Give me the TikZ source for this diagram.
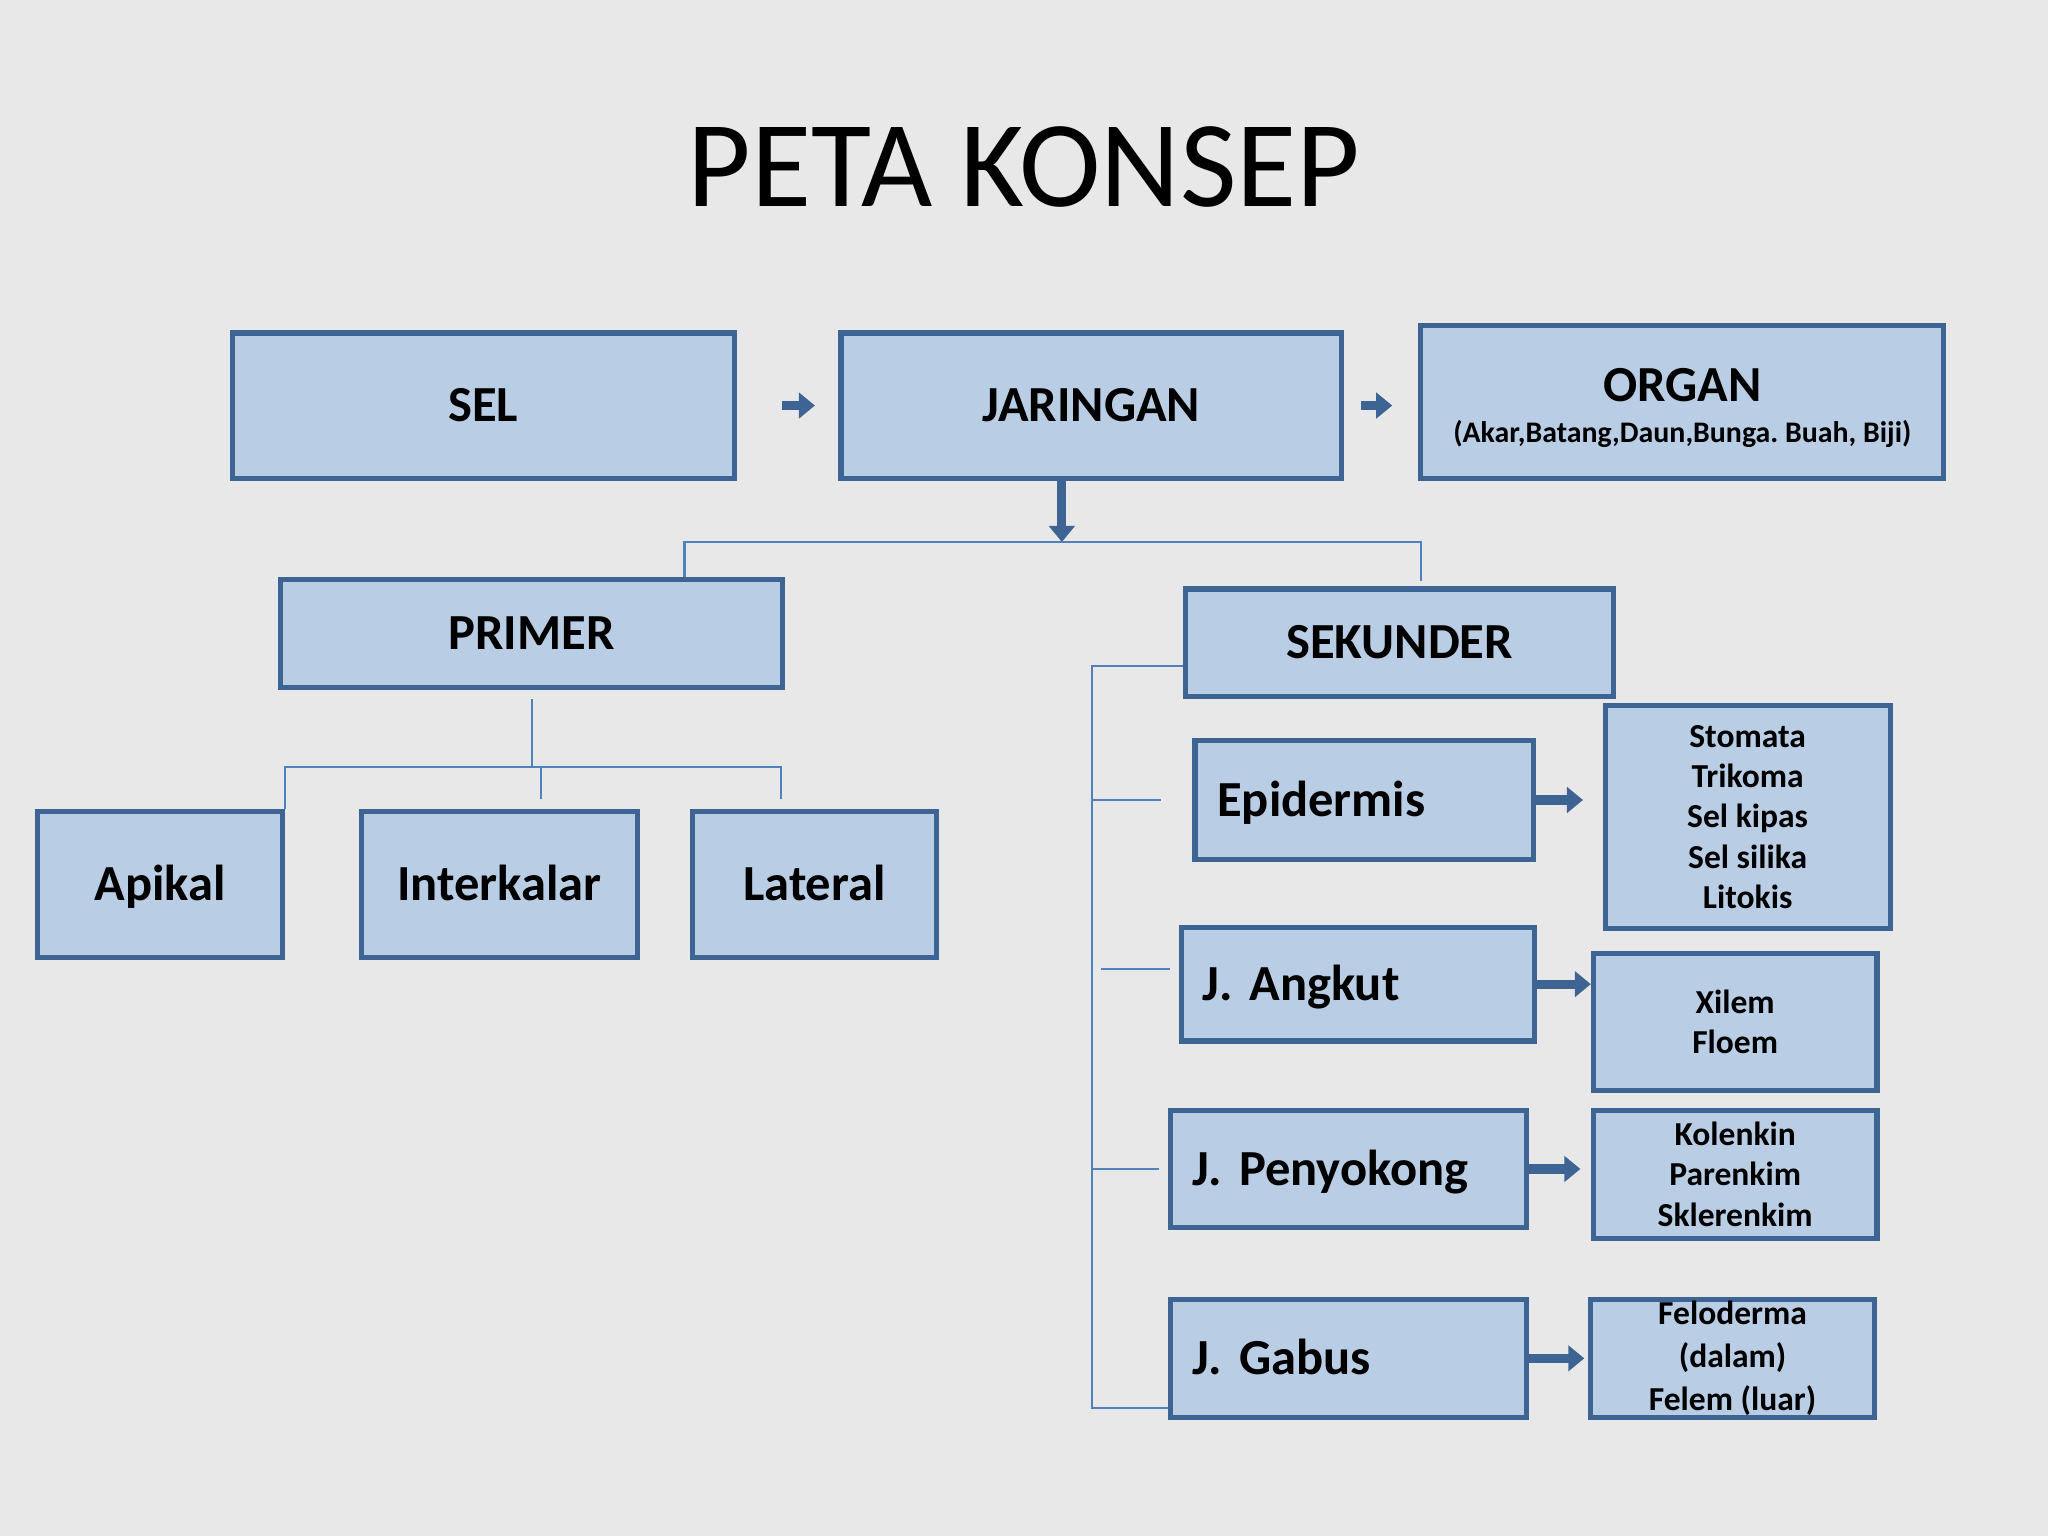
\documentclass[tikz,border=0pt]{standalone}
\usepackage{fontspec}
\setmainfont{Carlito}
\usetikzlibrary{arrows.meta,positioning,calc}
\definecolor{slidebg}{RGB}{232,232,232}
\definecolor{boxfill}{RGB}{185,205,229}
\definecolor{boxline}{RGB}{62,100,148}
\definecolor{treeline}{RGB}{79,129,189}
\frenchspacing

\begin{document}
\begin{tikzpicture}[x=0.01cm, y=-0.01cm,
    box/.style={draw=boxline, line width=1.1pt, fill=boxfill, inner sep=0pt, align=center,
        font=\fontsize{11}{13}\selectfont\bfseries},
    onebox/.style={box, text height=7.1pt, text depth=0pt},
    leftbox/.style={onebox, align=left, inner xsep=0.17cm},
    listbox/.style={box, font=\fontsize{7.3}{8.8}\selectfont\bfseries},
    tree/.style={draw=treeline, line width=0.45pt},
    link/.style={draw=boxline, line width=2pt, -{Triangle[length=3.5pt, width=5.5pt]}}]
    \path[fill=slidebg] (0,0) rectangle (1568,1176);
    \node[font=\fontsize{26.8}{30}\selectfont] (title) at (784,128) {PETA KONSEP};

    % top row
    \node[onebox, minimum width=3.84cm, minimum height=1.11cm] (sel) at (370,310.5) {SEL};
    \node[onebox, minimum width=3.83cm, minimum height=1.11cm] (jar) at (835.5,310.5) {JARINGAN};
    \node[box, minimum width=4cm, minimum height=1.17cm] (org) at (1288,307.5)
        {\rule{0pt}{0.35cm}ORGAN\\[-4pt]{\fontsize{6.5}{8}\selectfont(Akar,Batang,Daun,Bunga. Buah, Biji)}};
    \draw[link, shorten <=0.35cm, shorten >=0.18cm] (sel) -- (jar);
    \draw[link, shorten <=0.13cm, shorten >=0.2cm] (jar.east) -- (jar.east -| org.west);

    % primer / sekunder
    \node[onebox, minimum width=3.84cm, minimum height=0.82cm] (prim) at (407,485) {PRIMER};
    \node[onebox, minimum width=3.27cm, minimum height=0.82cm] (sek) at (1071.5,492) {SEKUNDER};
    \coordinate (split) at (813,415);
    \coordinate (sekin) at (1088,445);
    \draw[link] (jar.south -| split) -- (split);
    \draw[tree] ([xshift=1.17cm]prim.north) |- (split) -| (sekin);

    % meristem primer
    \node[onebox, minimum width=1.87cm, minimum height=1.12cm] (api) at (122.5,677) {Apikal};
    \node[onebox, minimum width=2.11cm, minimum height=1.12cm] (int) at (382.5,677) {Interkalar};
    \node[onebox, minimum width=1.87cm, minimum height=1.12cm] (lat) at (623.5,677) {Lateral};
    \coordinate (pfork) at (407,587);
    \coordinate (iend) at (414,612);
    \coordinate (lend) at (598,612);
    \draw[tree] ([yshift=-0.07cm]prim.south) -- (pfork);
    \draw[tree] (api.north east) |- (pfork) -| (lend);
    \draw[tree] (pfork -| iend) -- (iend);

    % jaringan sekunder
    \node[leftbox, text width=2.25cm, minimum height=0.91cm] (epi) at (1044.5,612.5) {Epidermis};
    \node[leftbox, text width=2.38cm, minimum height=0.87cm, inner xsep=0.16cm] (ang) at (1040,753.5) {J. Angkut};
    \node[leftbox, text width=2.39cm, minimum height=0.9cm] (pen) at (1032.5,895) {J. Penyokong};
    \node[leftbox, text width=2.39cm, minimum height=0.9cm] (gab) at (1032.5,1040) {J. Gabus};

    \node[listbox, minimum width=2.18cm, minimum height=1.71cm] (sto) at (1338,625.5)
        {Stomata\\Trikoma\\Sel kipas\\Sel silika\\Litokis};
    \node[listbox, minimum width=2.17cm, minimum height=1.05cm] (xil) at (1328.5,782.5) {Xilem\\Floem};
    \node[listbox, minimum width=2.17cm, minimum height=0.98cm] (kol) at (1328.5,899)
        {Kolenkin\\Parenkim\\Sklerenkim};
    \node[listbox, minimum width=2.17cm, minimum height=0.9cm, font=\fontsize{7.3}{9.4}\selectfont\bfseries]
        (fel) at (1326.5,1040) {Feloderma\\(dalam)\\Felem (luar)};

    \draw[link, shorten >=0.15cm] (epi.east) -- (epi.east -| sto.west);
    \draw[link] (ang.east) -- (ang.east -| xil.west);
    \draw[link, shorten >=0.08cm] (pen.east) -- (pen.east -| kol.west);
    \draw[link, shorten >=0.03cm] (gab.east) -- (gab.east -| fel.west);

    \coordinate (stop) at (836,510);
    \coordinate (sbot) at (836,1078);
    \draw[tree] ([yshift=-0.18cm]sek.west) -| (sbot) -- (sbot -| gab.west);
    \draw[tree] (stop |- epi.west) -- ([xshift=-0.24cm]epi.west);
    \draw[tree] ([xshift=0.07cm,yshift=0.115cm]stop |- ang.west) -- ([xshift=-0.07cm,yshift=0.115cm]ang.west);
    \draw[tree] (stop |- pen.west) -- ([xshift=-0.07cm]pen.west);
\end{tikzpicture}
\end{document}
